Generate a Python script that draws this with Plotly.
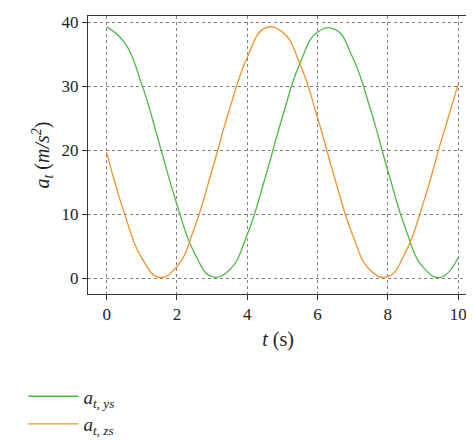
import plotly.graph_objects as go

t = [0, 0.5, 1, 1.5, 2, 2.5, 3, 3.5, 4, 4.5, 5, 5.5, 6, 6.5, 7, 7.5, 8, 8.5, 9, 9.5, 10]
a_ys = [39.3, 36.9, 30.3, 21.0, 11.5, 3.9, 0.2, 1.3, 6.8, 15.5, 25.2, 33.6, 38.5, 38.9, 34.5, 26.5, 16.8, 7.8, 1.7, 0.1, 3.2]
a_zs = [19.7, 10.2, 3.1, 0.1, 1.8, 7.9, 16.9, 26.5, 34.5, 39.1, 38.5, 33.5, 25.1, 15.4, 6.7, 1.2, 0.2, 4.0, 11.6, 21.1, 30.3]

fig = go.Figure()
fig.add_trace(go.Scatter(x=t, y=a_ys, mode="lines", line=dict(color="#4cb944", width=1.3, shape="spline", smoothing=1.3),
                         name="<i>a</i><sub><i>t, ys</i></sub>"))
fig.add_trace(go.Scatter(x=t, y=a_zs, mode="lines", line=dict(color="#f0922a", width=1.3, shape="spline", smoothing=1.3),
                         name="<i>a</i><sub><i>t, zs</i></sub>"))

axis = dict(showline=True, mirror=True, linecolor="#333", linewidth=1, ticks="outside", ticklen=5,
            tickcolor="#333", showgrid=True, gridcolor="#8a7a90", griddash="dot", gridwidth=1, zeroline=False)
fig.update_xaxes(axis, range=[-0.53, 10.28], tickvals=[0, 2, 4, 6, 8, 10],
                 title=dict(text="<i>t</i> (s)", standoff=8))
fig.update_yaxes(axis, range=[-2.5, 41], tickvals=[0, 10, 20, 30, 40],
                 title=dict(text="<i>a<sub>t</sub></i> (<i>m/s<sup>2</sup></i>)", standoff=6))
fig.update_layout(width=474, height=440, plot_bgcolor="white", paper_bgcolor="white",
                  font=dict(family="Liberation Serif", size=17, color="#222"),
                  margin=dict(l=80, r=14, t=5, b=140),
                  legend=dict(x=-0.17, y=-0.3, xanchor="left", yanchor="top", font=dict(size=19),
                              tracegroupgap=12, itemwidth=50))
fig.write_html("out.html")
